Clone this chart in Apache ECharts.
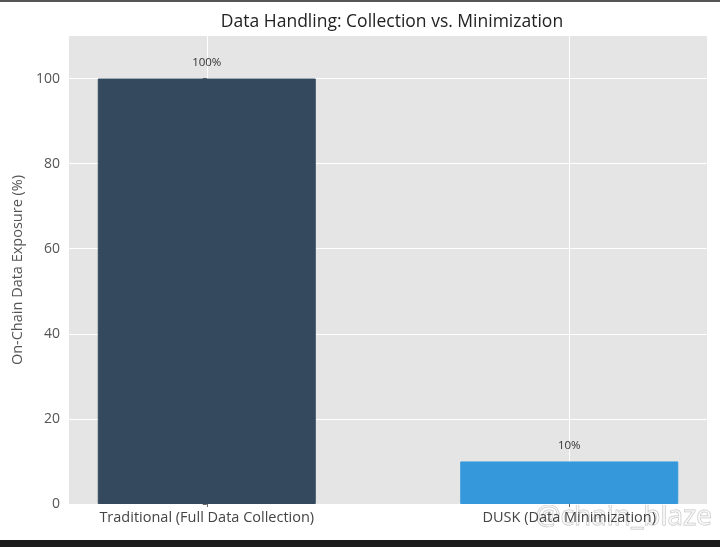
<!DOCTYPE html>
<html>
<head>
<meta charset="utf-8">
<script src="https://cdn.jsdelivr.net/npm/echarts@6/dist/echarts.min.js"></script>
<style>
  html, body { margin: 0; padding: 0; background: #fff; }
  #c1 { width: 720px; height: 547px; }
</style>
</head>
<body>
<div id="c1"></div>
<script>
const categories = ['Traditional (Full Data Collection)', 'DUSK (Data Minimization)']
const exposure = [100, 10]
const barColors = ['#34495e', '#3498db']
const yTicks = [0, 20, 40, 60, 80, 100]
const xTicks = [0, 1]

const FONT = '"Open Sans", sans-serif'

const myChart = echarts.init(document.getElementById('c1'))
const option = {
  animation: false,
  title: {
    text: 'Data Handling: Collection vs. Minimization',
    left: 387,
    textAlign: 'center',
    top: 8,
    textStyle: { fontFamily: FONT, fontSize: 17.5, fontWeight: 'normal', color: '#222' }
  },
  grid: {
    left: 69,
    right: 13,
    top: 36,
    bottom: 43,
    show: true,
    backgroundColor: '#e5e5e5',
    borderWidth: 0
  },
  xAxis: {
    type: 'value',
    min: -0.38,
    max: 1.38,
    axisLine: { show: false },
    axisTick: { show: true, length: 3, customValues: xTicks, lineStyle: { color: '#666' } },
    axisLabel: {
      customValues: xTicks,
      margin: 6,
      fontFamily: FONT,
      fontSize: 14.5,
      color: '#444',
      formatter: v => categories[Math.round(v)]
    },
    splitLine: { show: true, lineStyle: { color: '#fff', width: 1 } }
  },
  yAxis: {
    type: 'value',
    min: 0,
    max: 110,
    name: 'On-Chain Data Exposure (%)',
    nameLocation: 'middle',
    nameGap: 42,
    nameTextStyle: { fontFamily: FONT, fontSize: 14.5, color: '#555' },
    axisLine: { show: false },
    axisTick: { show: true, length: 4, customValues: yTicks, lineStyle: { color: '#666' } },
    axisLabel: { customValues: yTicks, margin: 9, fontFamily: FONT, fontSize: 14, color: '#555' },
    splitLine: { show: true, lineStyle: { color: '#fff', width: 1 } }
  },
  series: [
    {
      type: 'bar',
      barWidth: 218,
      data: exposure.map((v, i) => ({
        value: [i, v],
        itemStyle: { color: barColors[i], borderColor: barColors[i], borderWidth: 1 }
      })),
      label: {
        show: true,
        position: 'top',
        distance: 10,
        fontFamily: FONT,
        fontSize: 11.5,
        color: '#333',
        formatter: p => p.value[1] + '%'
      }
    }
  ],
  graphic: [
    { type: 'rect', left: 0, top: 0, shape: { width: 720, height: 2 }, style: { fill: '#555' } },
    { type: 'rect', left: 0, top: 540, shape: { width: 720, height: 7 }, style: { fill: '#1c1c1c' } },
    {
      type: 'text',
      left: 535,
      top: 503,
      style: {
        text: '@chain_blaze',
        fontFamily: FONT,
        fontSize: 28,
        fill: 'rgba(255,255,255,0.55)',
        stroke: 'rgba(120,120,120,0.45)',
        lineWidth: 1
      }
    }
  ]
}
myChart.setOption(option)
</script>
</body>
</html>
